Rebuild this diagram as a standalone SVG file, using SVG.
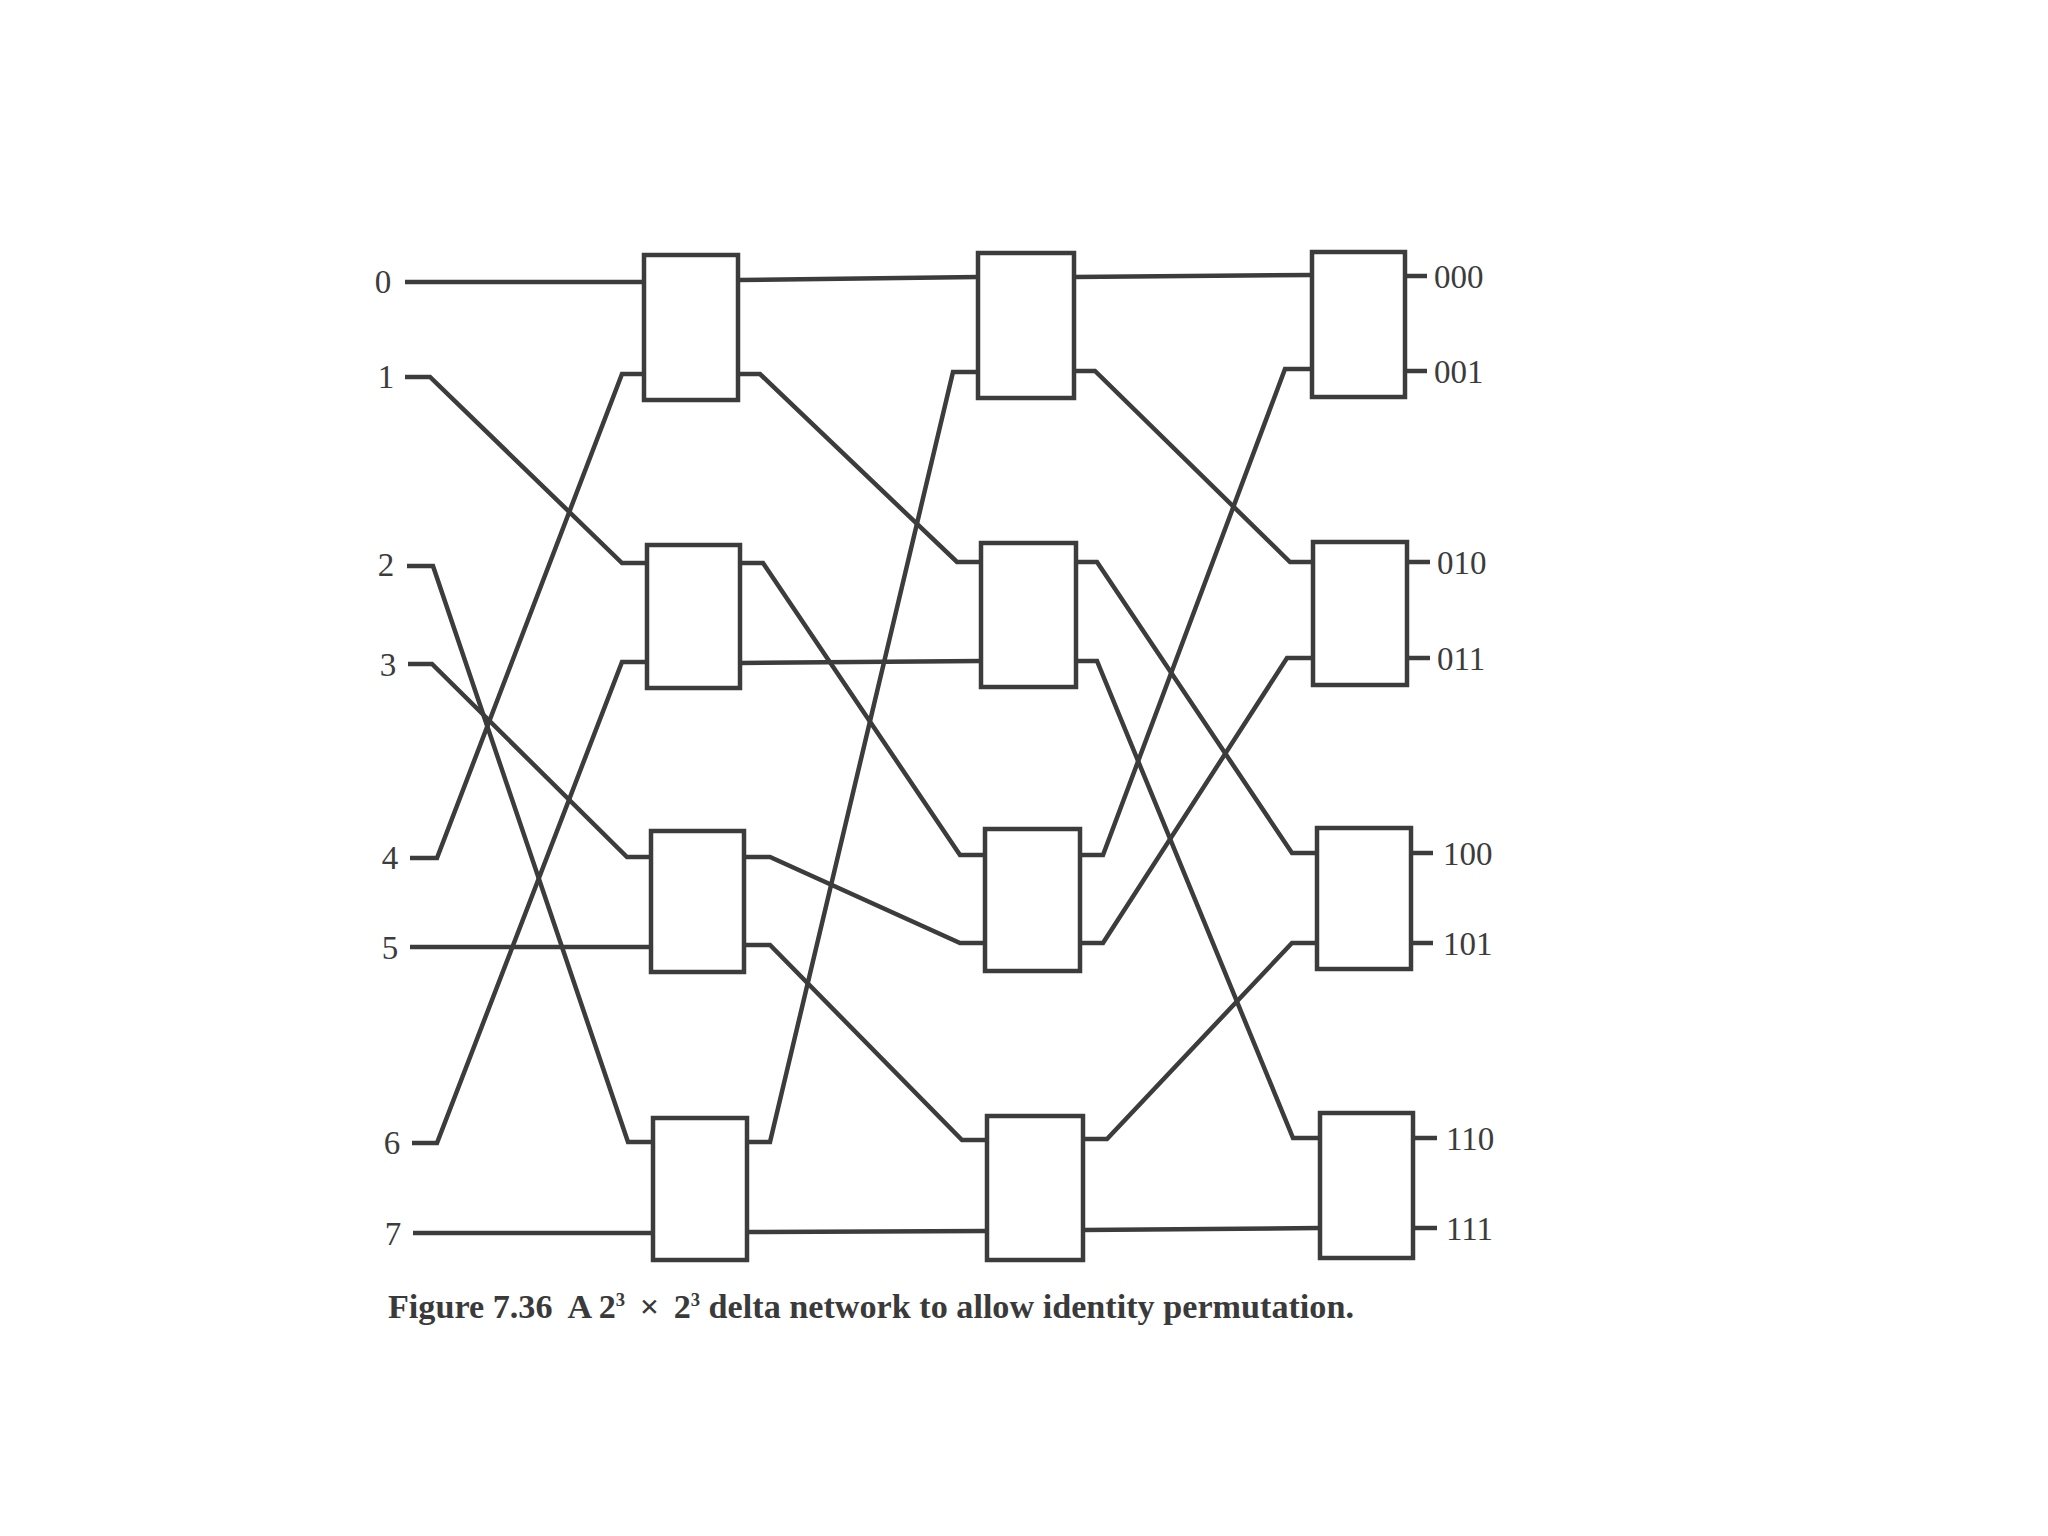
<svg xmlns="http://www.w3.org/2000/svg" width="2048" height="1536" viewBox="0 0 2048 1536">
<style>
.bg{fill:#ffffff}
.box{fill:#ffffff;stroke:#3c3c3c;stroke-width:4.5}
.w{fill:none;stroke:#3c3c3c;stroke-width:4.5;stroke-linejoin:miter}
.lbl{font-family:"Liberation Serif","Times New Roman",serif;font-size:33px;fill:#3c3c3c}
.in{text-anchor:middle}
.cap{font-family:"Liberation Serif","Times New Roman",serif;font-size:33px;font-weight:bold;fill:#3a3a3a}
</style>
<rect class="bg" x="0" y="0" width="2048" height="1536"/>
<g id="connectors">
<path class="w" d="M405,282 H644"/>
<path class="w" d="M405,377 H430 L622,563 H647"/>
<path class="w" d="M407,566 H433 L628,1142 H653"/>
<path class="w" d="M408,664 H432 L627,857 H651"/>
<path class="w" d="M410,858 H437 L622,374 H644"/>
<path class="w" d="M410,947 H651"/>
<path class="w" d="M412,1143 H437 L622,662 H647"/>
<path class="w" d="M413,1233 H653"/>
<path class="w" d="M738,280 L978,277"/>
<path class="w" d="M738,374 H760 L957,562 H981"/>
<path class="w" d="M740,563 H763 L960,855 H985"/>
<path class="w" d="M740,663 L981,661"/>
<path class="w" d="M744,857 H770 L960,943 H985"/>
<path class="w" d="M744,945 H770 L962,1140 H987"/>
<path class="w" d="M747,1142 H770 L953,372 H978"/>
<path class="w" d="M747,1232 L987,1231"/>
<path class="w" d="M1074,277 L1312,275"/>
<path class="w" d="M1074,371 H1095 L1290,562 H1313"/>
<path class="w" d="M1076,562 H1097 L1292,853 H1317"/>
<path class="w" d="M1076,661 H1097 L1293,1138 H1320"/>
<path class="w" d="M1080,855 H1103 L1285,369 H1312"/>
<path class="w" d="M1080,943 H1103 L1287,658 H1313"/>
<path class="w" d="M1083,1139 H1107 L1292,943 H1317"/>
<path class="w" d="M1083,1230 L1320,1228"/>
<path class="w" d="M1405,276 H1427 M1405,371 H1427"/>
<path class="w" d="M1407,562 H1430 M1407,658 H1430"/>
<path class="w" d="M1411,853 H1433 M1411,943 H1433"/>
<path class="w" d="M1413,1138 H1437 M1413,1228 H1437"/>
</g>
<g id="inputs">
<text class="lbl in" x="383" y="293">0</text>
<text class="lbl in" x="386" y="388">1</text>
<text class="lbl in" x="386" y="576">2</text>
<text class="lbl in" x="388" y="676">3</text>
<text class="lbl in" x="390" y="869">4</text>
<text class="lbl in" x="390" y="959">5</text>
<text class="lbl in" x="392" y="1154">6</text>
<text class="lbl in" x="393" y="1245">7</text>
</g>
<g id="sw11"><rect class="box" x="644" y="255" width="94" height="145"/></g>
<g id="sw12"><rect class="box" x="647" y="545" width="93" height="143"/></g>
<g id="sw13"><rect class="box" x="651" y="831" width="93" height="141"/></g>
<g id="sw14"><rect class="box" x="653" y="1118" width="94" height="142"/></g>
<g id="sw21"><rect class="box" x="978" y="253" width="96" height="145"/></g>
<g id="sw22"><rect class="box" x="981" y="543" width="95" height="144"/></g>
<g id="sw23"><rect class="box" x="985" y="829" width="95" height="142"/></g>
<g id="sw24"><rect class="box" x="987" y="1116" width="96" height="144"/></g>
<g id="sw31"><rect class="box" x="1312" y="252" width="93" height="145"/></g>
<g id="sw32"><rect class="box" x="1313" y="542" width="94" height="143"/></g>
<g id="sw33"><rect class="box" x="1317" y="828" width="94" height="141"/></g>
<g id="sw34"><rect class="box" x="1320" y="1113" width="93" height="145"/></g>
<g id="outputs">
<text class="lbl" x="1434" y="288">000</text>
<text class="lbl" x="1434" y="383">001</text>
<text class="lbl" x="1437" y="574">010</text>
<text class="lbl" x="1437" y="670">011</text>
<text class="lbl" x="1443" y="865">100</text>
<text class="lbl" x="1443" y="955">101</text>
<text class="lbl" x="1446" y="1150">110</text>
<text class="lbl" x="1446" y="1240">111</text>
</g>
<g id="caption">
<text class="cap" x="388" y="1318" textLength="966" lengthAdjust="spacingAndGlyphs">Figure 7.36 <tspan dx="8">A 2</tspan><tspan dy="-12" font-size="18">3</tspan><tspan dy="12" dx="14">×</tspan><tspan dx="14">2</tspan><tspan dy="-12" font-size="18">3</tspan><tspan dy="12"> delta network to allow identity permutation.</tspan></text>
</g>
</svg>
